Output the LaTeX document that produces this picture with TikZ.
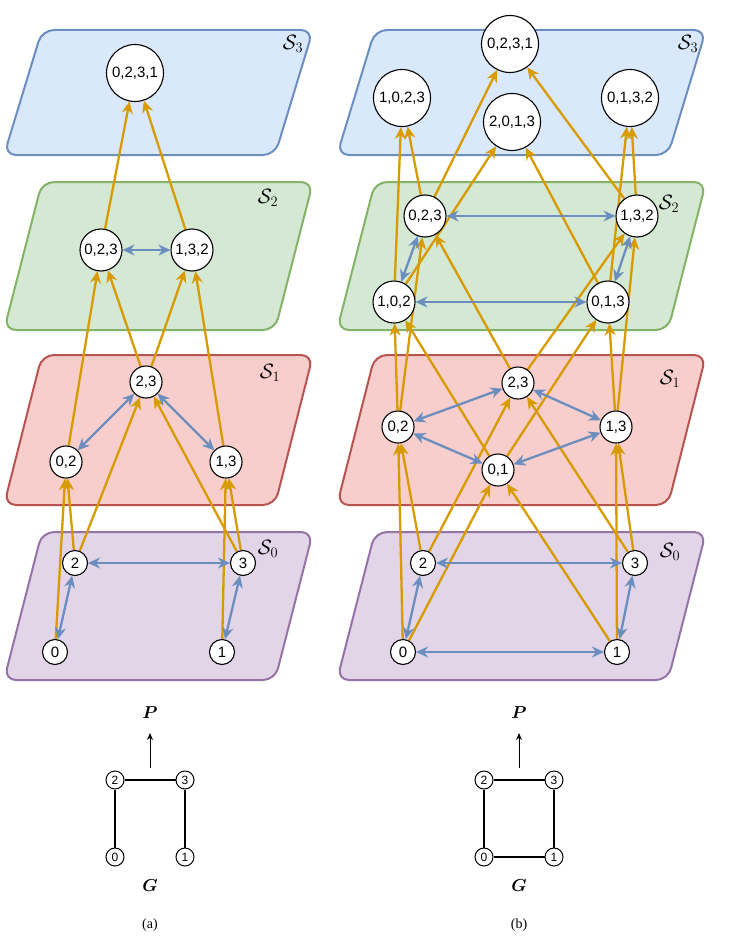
\documentclass[tikz,border=0pt]{standalone}
\usepackage{bm}
\usepackage{fontspec}
\setmainfont{Liberation Serif}
\newfontfamily\nsans{Liberation Sans}
\usetikzlibrary{arrows.meta}
\pgfdeclarelayer{bg}\pgfdeclarelayer{edges}
\pgfsetlayers{bg,edges,main}
\definecolor{ora}{HTML}{D79B00}
\definecolor{blu}{HTML}{6C8EBF}
\definecolor{f3}{HTML}{DAE8FC}\definecolor{f2}{HTML}{D5E8D4}\definecolor{f1}{HTML}{F8CECC}\definecolor{f0}{HTML}{E1D5E7}
\definecolor{d3}{HTML}{6C8EBF}\definecolor{d2}{HTML}{82B366}\definecolor{d1}{HTML}{B85450}\definecolor{d0}{HTML}{9673A6}
\tikzset{
 st/.style={circle,draw,line width=1.1pt,fill=white,inner sep=0pt,font=\nsans\fontsize{15}{15}\selectfont},
 s4/.style={st,minimum size=57pt},
 s3/.style={st,minimum size=42pt},
 s2/.style={st,minimum size=32pt},
 s1/.style={st,minimum size=25pt},
 g/.style={circle,draw,line width=1pt,inner sep=0pt,minimum size=18pt,font=\nsans\fontsize{12}{12}\selectfont},
 oe/.style={draw=ora,line width=2.3pt,-{Stealth[length=12pt,width=11pt]}},
 be/.style={draw=blu,line width=2.3pt,{Stealth[length=12pt,width=11pt]}-{Stealth[length=12pt,width=11pt]}},
 lab/.style={font=\fontsize{20}{20}\selectfont},
 pl/.style={line width=2pt,rounded corners=12pt}
}
\begin{document}
\begin{tikzpicture}[x=1pt,y=-1pt]
\useasboundingbox (0,0) rectangle (748,947);
\begin{pgfonlayer}{bg}
\foreach \x/\w in {4/271,337/331}{
 \draw[pl,fill=f3,draw=d3] (\x+38,30) -- (\x+38+\w,30) -- (\x+\w,155) -- (\x,155) -- cycle;
 \draw[pl,fill=f2,draw=d2] (\x+38,182) -- (\x+38+\w,182) -- (\x+\w,330) -- (\x,330) -- cycle;
 \draw[pl,fill=f1,draw=d1] (\x+38,355) -- (\x+38+\w,355) -- (\x+\w,505) -- (\x,505) -- cycle;
 \draw[pl,fill=f0,draw=d0] (\x+38,532) -- (\x+38+\w,532) -- (\x+\w,680) -- (\x,680) -- cycle;
}
\end{pgfonlayer}
% layer labels
\node[lab] (a3) at (293,44) {$\mathcal{S}_3$};
\node[lab] (a2) at (268,198) {$\mathcal{S}_2$};
\node[lab] (a1) at (270,373) {$\mathcal{S}_1$};
\node[lab] (a0) at (268,549) {$\mathcal{S}_0$};
\node[lab] (b3) at (688,44) {$\mathcal{S}_3$};
\node[lab] (b2) at (669,204) {$\mathcal{S}_2$};
\node[lab] (b1) at (670,379) {$\mathcal{S}_1$};
\node[lab] (b0) at (670,552) {$\mathcal{S}_0$};
% ---- (a)
\node[s4] (A0231) at (135,73) {0,2,3,1};
\node[s3] (A023) at (101,250) {0,2,3};
\node[s3] (A132) at (192,250) {1,3,2};
\node[s2] (A23) at (146,382) {2,3};
\node[s2] (A02) at (66,462) {0,2};
\node[s2] (A13) at (226,462) {1,3};
\node[s1] (A2) at (75,563) {2};
\node[s1] (A3) at (243,563) {3};
\node[s1] (A0) at (55,652) {0};
\node[s1] (A1) at (222,652) {1};
% ---- (b)
\node[s4] (B1023) at (402,98) {1,0,2,3};
\node[s4] (B0231) at (510,44) {0,2,3,1};
\node[s4] (B0132) at (630,98) {0,1,3,2};
\node[s4] (B2013) at (512,122) {2,0,1,3};
\node[s3] (B023) at (425,216) {0,2,3};
\node[s3] (B132) at (637,216) {1,3,2};
\node[s3] (B102) at (394,302) {1,0,2};
\node[s3] (B013) at (608,302) {0,1,3};
\node[s2] (B23) at (518,383) {2,3};
\node[s2] (B02) at (398,427) {0,2};
\node[s2] (B13) at (616,427) {1,3};
\node[s2] (B01) at (498,470) {0,1};
\node[s1] (B2) at (423,563) {2};
\node[s1] (B3) at (635,563) {3};
\node[s1] (B0) at (403,652) {0};
\node[s1] (B1) at (617,652) {1};
\begin{pgfonlayer}{edges}
\foreach \s/\t in {A0/A02,A2/A02,A2/A23,A3/A23,A3/A13,A1/A13,A02/A023,A23/A023,A23/A132,A13/A132,A023/A0231,A132/A0231,
 B0/B02,B2/B02,B0/B01,B1/B01,B2/B23,B3/B23,B3/B13,B1/B13,
 B02/B102,B01/B102,B02/B023,B23/B023,B23/B132,B13/B132,B01/B013,B13/B013,
 B102/B1023,B023/B1023,B023/B0231,B132/B0231,B102/B2013,B013/B2013,B013/B0132,B132/B0132}
 \draw[oe] (\s) -- (\t);
\foreach \s/\t in {A0/A2,A2/A3,A1/A3,A02/A23,A23/A13,A023/A132,
 B0/B2,B0/B1,B1/B3,B2/B3,B02/B23,B23/B13,B02/B01,B01/B13,B023/B132,B102/B013,B102/B023,B013/B132}
 \draw[be] (\s) -- (\t);
\end{pgfonlayer}
% ---- bottom graphs
\foreach \p/\x in {a/150,b/519}{
 \node[font=\fontsize{18}{18}\selectfont] (P\p) at (\x,713) {$\bm{P}$};
 \coordinate (Pt\p) at (\x,733);
 \coordinate (Pb\p) at (\x,768);
 \draw[line width=1pt,-{Stealth[length=7pt,width=6pt]}] (Pb\p) -- (Pt\p);
 \node[g] (g\p2) at (\x-35,780) {2};
 \node[g] (g\p3) at (\x+35,780) {3};
 \node[g] (g\p0) at (\x-35,857) {0};
 \node[g] (g\p1) at (\x+35,857) {1};
 \node[font=\fontsize{18}{18}\selectfont] (G\p) at (\x,886) {$\bm{G}$};
 \node[font=\fontsize{14}{14}\selectfont] (L\p) at (\x,925) {(\p)};
}
\draw[line width=1.8pt] (ga2) -- (ga3) (ga2) -- (ga0) (ga3) -- (ga1);
\draw[line width=1.8pt] (gb2) -- (gb3) (gb2) -- (gb0) (gb3) -- (gb1) (gb0) -- (gb1);
\end{tikzpicture}
\end{document}
